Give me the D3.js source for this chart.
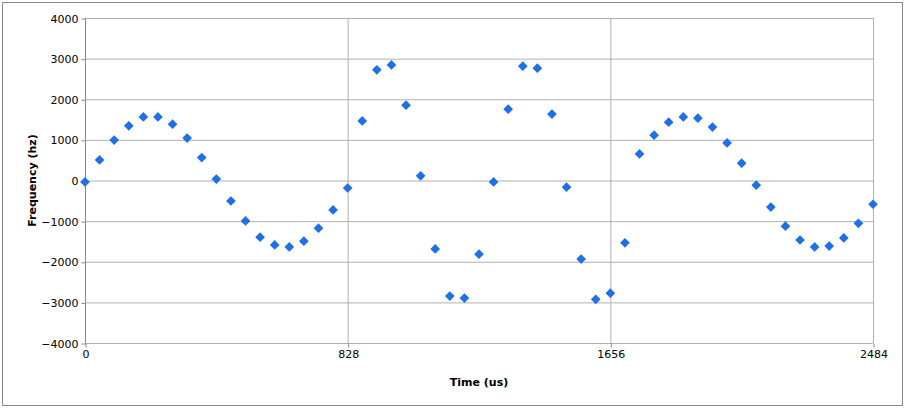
<!DOCTYPE html>
<html><head><meta charset="utf-8">
<script src="https://cdn.jsdelivr.net/npm/d3@7"></script>
<style>body{margin:0;background:#fff}text{font-family:Tahoma,"DejaVu Sans",sans-serif}</style>
</head><body><div id="chart"></div>
<script>
const timeStep = 46;
const freq = [-10,530,1020,1370,1590,1590,1410,1070,590,60,-480,-970,-1370,-1560,-1610,-1470,-1150,-700,-160,
  1490,2750,2870,1880,140,-1660,-2820,-2870,-1790,-10,1780,2840,2790,1660,-140,-1910,-2900,-2750,-1510,
  680,1140,1460,1590,1560,1340,950,450,-90,-630,-1100,-1440,-1610,-1590,-1390,-1030,-560];
const xTicks = [0,828,1656,2484];
const yTicks = d3.range(-4000,4001,1000);

const width = 907, height = 410;
const margin = {top: 18, right: 34, bottom: 67, left: 85};
const svg = d3.select("#chart").append("svg").attr("width", width).attr("height", height);
svg.append("rect").attr("x",2.5).attr("y",2.5).attr("width",900).attr("height",403)
  .attr("fill","#fff").attr("stroke","#888");

const x = d3.scaleLinear().domain([0,2484]).range([margin.left, width - margin.right]);
const y = d3.scaleLinear().domain([-4000,4000]).range([height - margin.bottom, margin.top]);

const g = svg.append("g");
g.selectAll(".hg").data(yTicks).join("line")
  .attr("x1", x(0)).attr("x2", x(2484)).attr("y1", d=>y(d)+0.5).attr("y2", d=>y(d)+0.5)
  .attr("stroke","#b0b0b0").attr("stroke-width",1);
g.selectAll(".vg").data(xTicks.slice(1)).join("line")
  .attr("x1", d=>x(d)+0.5).attr("x2", d=>x(d)+0.5).attr("y1", y(4000)).attr("y2", y(-4000))
  .attr("stroke","#b0b0b0");
g.append("line").attr("x1",x(0)+0.5).attr("x2",x(0)+0.5).attr("y1",y(4000)).attr("y2",y(-4000)).attr("stroke","#888");

const yAxis = svg.append("g").attr("transform",`translate(${x(0)+0.5},0.5)`)
  .call(d3.axisLeft(y).tickValues(yTicks).tickFormat(d3.format("d")).tickSize(4).tickSizeOuter(0));
const xAxis = svg.append("g").attr("transform",`translate(0.5,${y(-4000)+0.5})`)
  .call(d3.axisBottom(x).tickValues(xTicks).tickFormat(d3.format("d")).tickSize(4).tickSizeOuter(0));
[xAxis,yAxis].forEach(a=>{a.selectAll("path,line").attr("stroke","#888");a.selectAll("text").attr("font-size",11).attr("fill","#000");});
yAxis.select(".domain").remove();
xAxis.select(".domain").remove();

svg.selectAll(".pt").data(freq).join("path")
  .attr("transform",(d,i)=>`translate(${x(i*timeStep)},${y(d)+1})`)
  .attr("d",d3.symbol(d3.symbolDiamond2 || d3.symbolDiamond, 60)())
  .attr("fill","#1f6fe8");

svg.append("text").attr("x",(x(0)+x(2484))/2).attr("y",386).attr("text-anchor","middle")
  .attr("font-size",11).attr("font-weight","bold").text("Time (us)");
svg.append("text").attr("transform",`translate(36,${y(0)}) rotate(-90)`).attr("text-anchor","middle")
  .attr("font-size",11).attr("font-weight","bold").text("Frequency (hz)");
</script></body></html>
